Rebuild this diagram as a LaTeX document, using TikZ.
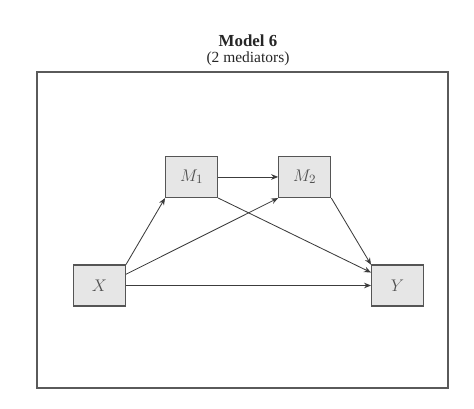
\documentclass[tikz,border=0pt]{standalone}
\usepackage{fontspec}
\setmainfont{Liberation Serif}
\usetikzlibrary{positioning, arrows.meta}
\definecolor{clBox}   {RGB}{230,230,230}
\definecolor{clBoxBd} {RGB}{ 85, 85, 85}
\definecolor{clText}  {RGB}{ 80, 80, 80}
\definecolor{clArrow} {RGB}{ 60, 60, 60}
\definecolor{clFrame} {RGB}{ 90, 90, 90}
\tikzset{
  var/.style={
    rectangle, draw=clBoxBd, fill=clBox, text=clText,
    line width=0.8pt, font=\fontsize{12.5}{14}\selectfont,
    minimum width=1.3cm, minimum height=1.025cm, inner sep=0pt
  },
  arr/.style={
    -{Stealth[length=5pt, width=4pt]},
    line width=0.6pt, color=clArrow
  },
  frame/.style={
    draw=clFrame, line width=0.8pt
  },
  head/.style={
    inner sep=0pt, text=black!85
  }
}

\begin{document}
\begin{tikzpicture}
    \useasboundingbox (0,0) rectangle (11.85,-10.225);

    % ============================================================
    % TITLE AND FRAME
    % ============================================================
    \node (title) [head] at (6.2,-1.02) {\fontsize{12}{14}\selectfont\textbf{Model 6}};
    \node (subtitle) [head, below=0.1cm of title] {\fontsize{11}{13}\selectfont(2 mediators)};
    \draw [frame] (0.925,-1.8) rectangle (11.2,-9.7);

    % ============================================================
    % VARIABLE NODES
    % ============================================================
    \node (X) [var] at (2.4875,-7.1375) {$X$};
    \node (M1) [var, above right=1.66cm and 0.975cm of X] {$M_1$};
    \node (M2) [var, right=1.5cm of M1] {$M_2$};
    \node (Y) [var, right=6.125cm of X] {$Y$};

    % ============================================================
    % CONNECTIONS
    % ============================================================
    \draw [arr] (X.north east) -- (M1.south west);
    \draw [arr] (X.23) -- (M2.south west);
    \draw [arr] (M1.east) -- (M2.west);
    \draw [arr] (M1.south east) -- (Y.154);
    \draw [arr] (M2.south east) -- (Y.142);
    \draw [arr] (X.east) -- (Y.west);

\end{tikzpicture}
\end{document}
